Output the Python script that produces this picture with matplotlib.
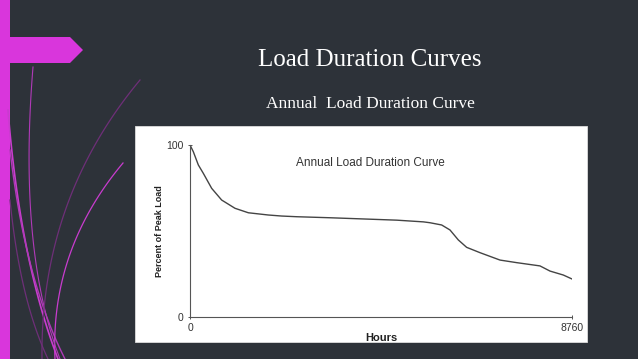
import numpy as np
import matplotlib
matplotlib.use('Agg')
import matplotlib.pyplot as plt
from matplotlib.patches import Rectangle, Polygon

# load duration curve
hours = [0, 76, 191, 306, 497, 726, 1032, 1338, 1796, 2102, 2448, 3213, 3978,
         4743, 5355, 5504, 5771, 5962, 6153, 6344, 6650, 7109, 7492, 8026,
         8256, 8561, 8760]
pct_peak = [100, 96.1, 88.4, 83.5, 74.8, 68.0, 63.2, 60.6, 59.3, 58.7, 58.3,
            57.7, 57.0, 56.3, 55.3, 54.8, 53.5, 50.6, 44.8, 40.5, 37.4, 33.1,
            31.6, 29.7, 26.7, 24.4, 22.1]
x_ticks = [0, 8760]
y_ticks = [0, 100]

W, H = 638, 359
bg = '#2d3239'
magenta = '#d936dc'

fig = plt.figure(figsize=(W / 100, H / 100), dpi=100, facecolor=bg)

def px(x, y):
    return x / W, 1 - y / H

# decoration: left bar, arrow and thin curves
deco = fig.add_axes([0, 0, 1, 1], facecolor='none')
deco.set_xlim(0, W)
deco.set_ylim(H, 0)
deco.axis('off')
deco.add_patch(Rectangle((0, 0), 10, H, color=magenta, lw=0))
deco.add_patch(Polygon([(0, 37), (70, 37), (83, 50), (70, 63), (0, 63)],
                       closed=True, color=magenta, lw=0))

def bez(p0, p1, p2, color, lw, alpha=1.0):
    t = np.linspace(0, 1, 60)[:, None]
    pts = (1 - t) ** 2 * np.array(p0) + 2 * (1 - t) * t * np.array(p1) + t ** 2 * np.array(p2)
    deco.plot(pts[:, 0], pts[:, 1], color=color, lw=lw, alpha=alpha)

bez((8, 110), (20, 260), (58, 359), '#c93ccf', 1.2)
bez((10, 150), (25, 280), (65, 359), '#b03ab8', 1.0)
bez((123, 163), (50, 250), (55, 359), '#c93ccf', 0.9)
bez((33, 67), (18, 250), (60, 359), '#b03ab8', 0.8)
bez((140, 80), (40, 200), (42, 359), '#6e2f78', 0.9)
bez((10, 200), (20, 300), (48, 359), '#6e2f78', 0.9)

# slide titles
fig.text(*px(370, 60), 'Load Duration Curves', color='white', ha='center',
         va='center', fontsize=18, family='Liberation Serif')
fig.text(*px(370, 104), 'Annual  Load Duration Curve', color='white',
         ha='center', va='center', fontsize=12.5, family='Liberation Serif')

# white picture panel
deco.add_patch(Rectangle((135, 126), 452, 216, facecolor='white',
                         edgecolor='#dddddd', lw=0.6))

ax = fig.add_axes([190 / W, (H - 317) / H, 382 / W, 172 / H], facecolor='none')
ax.plot(hours, pct_peak, color='#444444', lw=1.0)
ax.set_xlim(0, 8760)
ax.set_ylim(0, 100)
for s in ['top', 'right']:
    ax.spines[s].set_visible(False)
for s in ['left', 'bottom']:
    ax.spines[s].set_color('#555555')
    ax.spines[s].set_linewidth(0.8)
ax.set_xticks(x_ticks)
ax.set_yticks(y_ticks)
ax.set_xticklabels([str(v) for v in x_ticks], family='Liberation Sans',
                   fontsize=7.5, color='#333333')
ax.set_yticklabels([str(v) for v in y_ticks], family='Liberation Sans',
                   fontsize=7.5, color='#333333')
ax.tick_params(axis='both', length=3, width=0.7, color='#555555', direction='inout', pad=3)
ax.set_xlabel('Hours', family='Liberation Sans', fontweight='bold', fontsize=8,
              labelpad=0, color='#222222')
ax.set_ylabel('Percent of Peak Load', family='Liberation Sans', fontweight='bold',
              fontsize=6.5, labelpad=2, color='#222222')
ax.text(4131, 89.3, 'Annual Load Duration Curve', family='Liberation Sans',
        fontsize=8.5, ha='center', va='center', color='#333333')

fig.savefig('out.png', dpi=100, facecolor=bg)
